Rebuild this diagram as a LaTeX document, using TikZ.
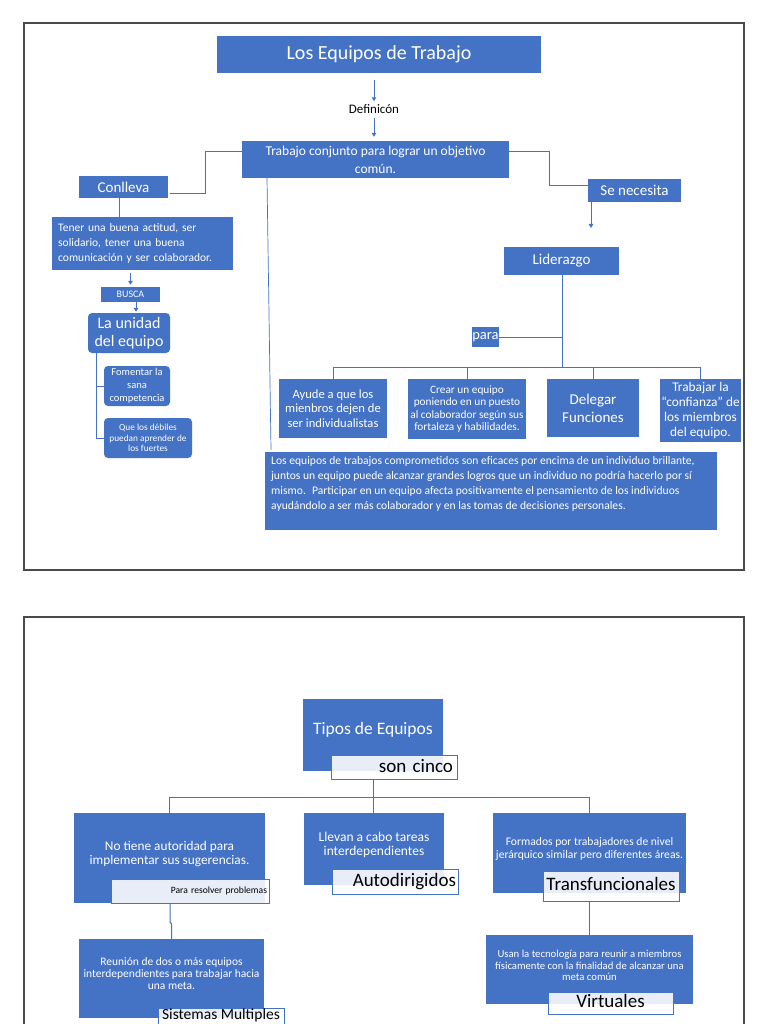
\documentclass[tikz,border=0pt]{standalone}
\usepackage{fontspec}
\setmainfont{Carlito}
\usetikzlibrary{arrows.meta}
\definecolor{myblue}{HTML}{4472C4}
\definecolor{framegray}{HTML}{4A4A4A}
\newcommand{\myfs}[2]{\fontsize{#1pt}{#2pt}\selectfont}
\begin{document}
\begin{tikzpicture}[x=1pt,y=-1pt,
  box/.style={fill=myblue, text=white, inner sep=0pt, align=center},
  rbox/.style={box, rounded corners=4pt},
  lab/.style={draw=myblue, line width=0.7pt, fill=white, fill opacity=0.88, text opacity=1, text=black, inner sep=0pt},
  ln/.style={draw=myblue, line width=1pt},
  arr/.style={ln, -{Triangle[width=4.5pt,length=4pt]}},
  wt/.style={text=white, align=center, inner sep=0pt}
]
\useasboundingbox (0,0) rectangle (768,1024);
\fill[white] (0,0) rectangle (768,1024);
% frames
\draw[framegray, line width=1.3pt] (24,23) rectangle (744,570);
\draw[framegray, line width=1.3pt] (24,1040) -- (24,617) -- (744,617) -- (744,1040);

% ---------- top panel ----------
\node[box, minimum width=324pt, minimum height=37pt, font=\myfs{20}{24}] (title) at (379,54.5) {Los Equipos de Trabajo};
\node[inner sep=1pt, font=\myfs{13}{15}] (def) at (374,109) {Definicón};
\node[box, minimum width=267pt, minimum height=37pt, font=\myfs{13.5}{18}] (trab) at (375.5,159.5) {Trabajo conjunto para lograr un objetivo\\común.};
\draw[arr, shorten <=7pt, shorten >=2pt] (title.south -| def.north) -- (def.north);
\draw[arr, shorten <=3pt, shorten >=4pt] (def.south) -- (trab.north -| def.south);

\node[box, minimum width=89pt, minimum height=22pt, font=\myfs{15}{18}] (conl) at (123.5,187) {Conlleva};
\draw[ln] ([yshift=7.5pt]trab.west) -- ++(-36,0) |- ([xshift=2pt,yshift=-7pt]conl.east);

\node[box, align=left, text width=169pt, inner xsep=6pt, minimum height=53pt, font=\myfs{11.5}{15}, anchor=north west] (tener) at (52,217) {Tener una buena actitud, ser\\solidario, tener una buena\\comunicación y ser colaborador.};
\draw[ln] ([xshift=-4.5pt]conl.south) -- ([xshift=-4.5pt]conl.south |- tener.north);

\node[box, minimum width=59pt, minimum height=15pt, font=\myfs{10}{12}] (busca) at (130.5,294.5) {BUSCA};
\draw[arr, shorten <=3pt, shorten >=2pt] (tener.south -| busca.north) -- (busca.north);

\node[rbox, minimum width=82pt, minimum height=40pt, font=\myfs{16}{18}] (unidad) at (129,333) {La unidad\\del equipo};
\draw[arr, shorten >=1pt] ([xshift=5.5pt]busca.south) -- ([xshift=5.5pt]busca.south |- unidad.north);

\node[rbox, minimum width=66pt, minimum height=40pt, font=\myfs{10.5}{13}] (fom) at (137,386) {Fomentar la\\sana\\competencia};
\node[rbox, minimum width=88pt, minimum height=40pt, font=\myfs{9.3}{10.8}] (que) at (148,438) {Que los débiles\\puedan aprender de\\los fuertes};
\draw[ln] ([xshift=-33pt]unidad.south) |- (fom.west);
\draw[ln] ([xshift=-33pt]unidad.south) |- (que.west);

\node[box, minimum width=93pt, minimum height=23pt, font=\myfs{15}{18}] (senec) at (634.5,190.5) {Se necesita};
\draw[ln] ([yshift=7.5pt]trab.east) -- ++(40,0) |- ([yshift=4.5pt]senec.west);
\coordinate (lidtip) at (591,228);
\draw[arr] (senec.south -| lidtip) -- (lidtip);

\node[box, minimum width=115pt, minimum height=28pt, font=\myfs{15}{18}] (lid) at (561.5,261) {Liderazgo};
\coordinate (bus) at (562,367);
\draw[ln] (lid.south -| bus) -- (bus);
\node[box, minimum width=27pt, minimum height=20pt, font=\myfs{14.5}{17}] (para) at (485.5,337) {para};
\draw[ln] (para.east) -- (para.east -| bus);

\node[box, minimum width=108pt, minimum height=59pt, font=\myfs{12.6}{14.4}] (ayude) at (333,408.5) {Ayude a que los\\mienbros dejen de\\ser individualistas};
\node[box, minimum width=118pt, minimum height=60pt, font=\myfs{11.3}{12.4}] (crear) at (467,409) {Crear un equipo\\poniendo en un puesto\\al colaborador según sus\\fortaleza y habilidades.};
\node[box, minimum width=92pt, minimum height=58pt, font=\myfs{15}{18}] (deleg) at (593,408) {Delegar\\Funciones};
\node[box, minimum width=81pt, minimum height=63pt, font=\myfs{13.3}{14.8}] (trabaj) at (700.5,410.5) {Trabajar la\\“confianza” de\\los miembros\\del equipo.};
\draw[ln] (ayude.north) -- (ayude.north |- bus) -- (trabaj.north |- bus) -- (trabaj.north);
\draw[ln] (crear.north) -- (crear.north |- bus);
\draw[ln] (deleg.north) -- (deleg.north |- bus);

\node[box, anchor=north west, align=left, inner sep=0pt, font=\myfs{11.6}{15}] (parr) at (265,452) {\parbox[c][78pt][t]{452pt}{\leftskip=6pt\rule{0pt}{12.5pt}Los equipos de trabajos comprometidos son eficaces por encima de un individuo brillante,\\juntos un equipo puede alcanzar grandes logros que un individuo no podría hacerlo por sí\\mismo.~ Participar en un equipo afecta positivamente el pensamiento de los individuos\\ayudándolo a ser más colaborador y en las tomas de decisiones personales.}};
\draw[ln, line width=0.7pt] ([xshift=-108.5pt]trab.south) -- ([xshift=6pt,yshift=2pt]parr.north west);

% ---------- bottom panel ----------
\node[box, minimum width=140pt, minimum height=72pt, font=\myfs{17.5}{20}, text depth=13pt] (tipos) at (373,735) {Tipos de Equipos};

\node[box, minimum width=191pt, minimum height=90pt] (notiene) at (169.5,858) {};
\node[wt, font=\myfs{13.3}{14.3}] at ([yshift=4pt]notiene.center) {No tiene autoridad para\\implementar sus sugerencias.};
\node[box, minimum width=140pt, minimum height=72pt] (llevan) at (374,849) {};
\node[wt, font=\myfs{13.5}{14}] at ([yshift=4pt]llevan.center) {Llevan a cabo tareas\\interdependientes};
\node[box, minimum width=193pt, minimum height=80pt] (formados) at (589.5,853) {};
\node[wt, font=\myfs{11.6}{13.3}] at ([yshift=4pt]formados.center) {Formados por trabajadores de nivel\\jerárquico similar pero diferentes áreas.};
\node[box, minimum width=185pt, minimum height=79pt] (reunion) at (171.5,978.5) {};
\node[wt, font=\myfs{11.5}{12.3}] at ([yshift=5pt]reunion.center) {Reunión de dos o más equipos\\interdependientes para trabajar hacia\\una meta.};
\node[box, minimum width=207pt, minimum height=69pt] (usan) at (589.5,969.5) {};
\node[wt, font=\myfs{10.7}{11.5}] at ([yshift=4pt]usan.center) {Usan la tecnología para reunir a miembros\\físicamente con la finalidad de alcanzar una\\meta común};

\coordinate (bus2) at (373,797);
\draw[ln] (notiene.north) -- (notiene.north |- bus2) -- (formados.north |- bus2) -- (formados.north);

\node[lab, minimum height=24pt, text width=118pt, align=right, inner xsep=4pt, font=\myfs{19}{22}, text height=13pt, text depth=1.6pt] (sonc) at (394,767) {son cinco};
\draw[ln] (tipos.center |- sonc.south) -- (tipos.center |- llevan.north);

\node[lab, minimum height=24pt, text width=154pt, align=right, inner xsep=2pt, font=\myfs{9.6}{11}] (parres) at (190,891) {Para resolver problemas};
\draw[ln] ([xshift=-20pt]parres.south) -- ++(0,19) -- ([yshift=15pt]reunion.north) -- (reunion.north);

\node[lab, minimum height=25pt, text width=122pt, align=right, inner xsep=2pt, font=\myfs{19}{22}] (autod) at (395,881.5) {Autodirigidos};
\node[lab, minimum height=30pt, minimum width=136pt, align=center, font=\myfs{19}{22}, text height=13.3pt, text depth=4.5pt] (transf) at (611,886) {Transfuncionales};
\draw[ln] (usan.north |- transf.south) -- (usan.north);
\node[lab, minimum height=22pt, minimum width=125pt, align=center, font=\myfs{19}{22}, text height=13pt, text depth=4.8pt] (virt) at (610.5,1003) {Virtuales};
\node[lab, minimum height=26pt, minimum width=126pt, align=center, font=\myfs{15.5}{18}, text height=11pt, text depth=15pt] (sistm) at (221,1021) {Sistemas Multiples};
\end{tikzpicture}
\end{document}
